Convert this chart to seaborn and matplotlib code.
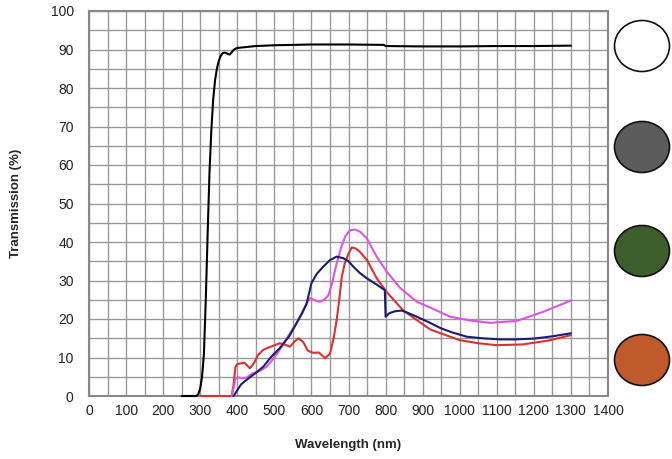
import numpy as np
import pandas as pd
import matplotlib
matplotlib.use("Agg")
import matplotlib.pyplot as plt
import seaborn as sns
from matplotlib.patches import Ellipse

sns.set_style("white")
plt.rcParams['font.family'] = ['Liberation Sans', 'DejaVu Sans']

# clear glass
black_x = [250, 290, 295, 300, 305, 310, 315, 320, 325, 330, 335, 340, 345, 350, 355, 360,
           365, 370, 375, 380, 385, 390, 395, 400, 420, 450, 500, 600, 700, 795, 800,
           900, 1000, 1100, 1200, 1300]
black_y = [0, 0, 0.5, 2, 5, 11, 25, 42, 58, 69, 77, 82, 85, 87, 88.3, 89,
           89.2, 89.1, 88.8, 88.7, 89.3, 89.9, 90.2, 90.4, 90.6, 90.9, 91.1, 91.3, 91.3, 91.2, 90.9,
           90.8, 90.8, 90.9, 90.9, 91.0]

# red
red_x = [300, 385, 390, 395, 400, 410, 420, 434, 445, 455, 470, 490, 515, 530, 542, 555, 565,
         578, 590, 605, 620, 637, 650, 660, 668, 675, 682, 690, 700, 709, 720, 730, 750,
         776, 803, 848, 920, 1000, 1050, 1100, 1170, 1240, 1300]
red_y = [0, 0, 3, 7.5, 8.3, 8.5, 8.6, 7.2, 8.5, 10.5, 12, 12.8, 13.7, 13.3, 12.8, 14.2, 15,
         14, 11.8, 11.2, 11.3, 9.8, 11, 15, 19.7, 25, 31, 34.5, 37, 38.6, 38.3, 37.5, 35.3,
         30.6, 27, 22.2, 17.3, 14.5, 13.7, 13.2, 13.4, 14.4, 15.8]

# navy
blue_x = [390, 400, 410, 425, 450, 470, 490, 515, 540, 560, 575, 587, 600, 615, 632, 650,
          668, 686, 700, 713, 730, 749, 775, 798, 800, 810, 825, 843, 860, 884, 920, 949,
          980, 1019, 1060, 1109, 1150, 1199, 1250, 1300]
blue_y = [0, 1.5, 3, 4.2, 6, 7.6, 10, 12.5, 15.5, 18.9, 21.5, 24, 29.3, 31.8, 33.6, 35.3,
          36.2, 35.8, 35, 33.6, 32, 30.6, 29, 27.5, 20.6, 21.5, 22, 22.2, 21.6, 20.6, 19, 17.6,
          16.5, 15.4, 15, 14.7, 14.7, 14.9, 15.5, 16.3]

# magenta
mag_x = [385, 390, 395, 405, 415, 425, 440, 460, 479, 500, 520, 542, 560, 578, 590, 596,
         610, 623, 635, 646, 655, 668, 680, 691, 704, 718, 731, 749, 776, 803, 840, 884,
         920, 974, 1030, 1082, 1154, 1226, 1300]
mag_y = [0, 2, 4.6, 4.8, 4.6, 4.8, 5.8, 6.5, 7.6, 10, 12.8, 16.3, 19, 22.3, 24.5, 25.4,
         24.8, 24.5, 25, 26.2, 29, 34.4, 38.5, 41.4, 43.1, 43.2, 42.7, 41, 36.2, 32.3, 28, 24.5,
         23, 20.6, 19.6, 19, 19.5, 21.9, 24.8]

swatch_colors = ['#ffffff', '#5c5c5c', '#3b5e2b', '#c05a2c']

fig = plt.figure(figsize=(6.72, 4.59), dpi=100)
ax = fig.add_axes([89 / 672, 1 - 396 / 459, 519 / 672, 385 / 459])

series = [(black_x, black_y, '#000000'), (red_x, red_y, '#d83232'),
          (mag_x, mag_y, '#dd55e0'), (blue_x, blue_y, '#1c1c6e')]
for xs, ys, c in series:
    d = pd.DataFrame({'x': xs, 'y': ys})
    sns.lineplot(data=d, x='x', y='y', ax=ax, color=c, lw=1.5,
                 estimator=None, sort=False, zorder=4, clip_on=False)

ax.set_xlim(0, 1400)
ax.set_ylim(0, 100)
ax.set_xticks(np.arange(0, 1401, 100))
ax.set_xticks(np.arange(0, 1401, 50), minor=True)
ax.set_yticks(np.arange(0, 101, 10))
ax.set_yticks(np.arange(0, 101, 5), minor=True)
ax.grid(True, which='both', color='#999999', lw=1)
for s in ax.spines.values():
    s.set_color('#888888')
    s.set_linewidth(1.5)
    s.set_zorder(2)
ax.tick_params(which='both', direction='out', length=3, color='#888888',
               labelsize=10, labelcolor='#222222')
ax.tick_params(axis='y', which='minor', length=0)
ax.tick_params(axis='x', pad=3)
ax.tick_params(axis='y', pad=8)
ax.set_xlabel('Wavelength (nm)', fontsize=9.5, fontweight='bold', labelpad=15)
ax.set_ylabel('Transmission (%)', fontsize=9.5, fontweight='bold')
ax.yaxis.set_label_coords(-0.13, 0.5)

# colour swatches at the right
sax = fig.add_axes([0, 0, 1, 1])
sax.set_xlim(0, 672)
sax.set_ylim(459, 0)
sax.axis('off')
for cy, c in zip([46, 147, 251, 360], swatch_colors):
    sax.add_patch(Ellipse((642, cy), 55, 51, facecolor=c, edgecolor='#111111', lw=1.2))

fig.savefig('out.png', dpi=100)
